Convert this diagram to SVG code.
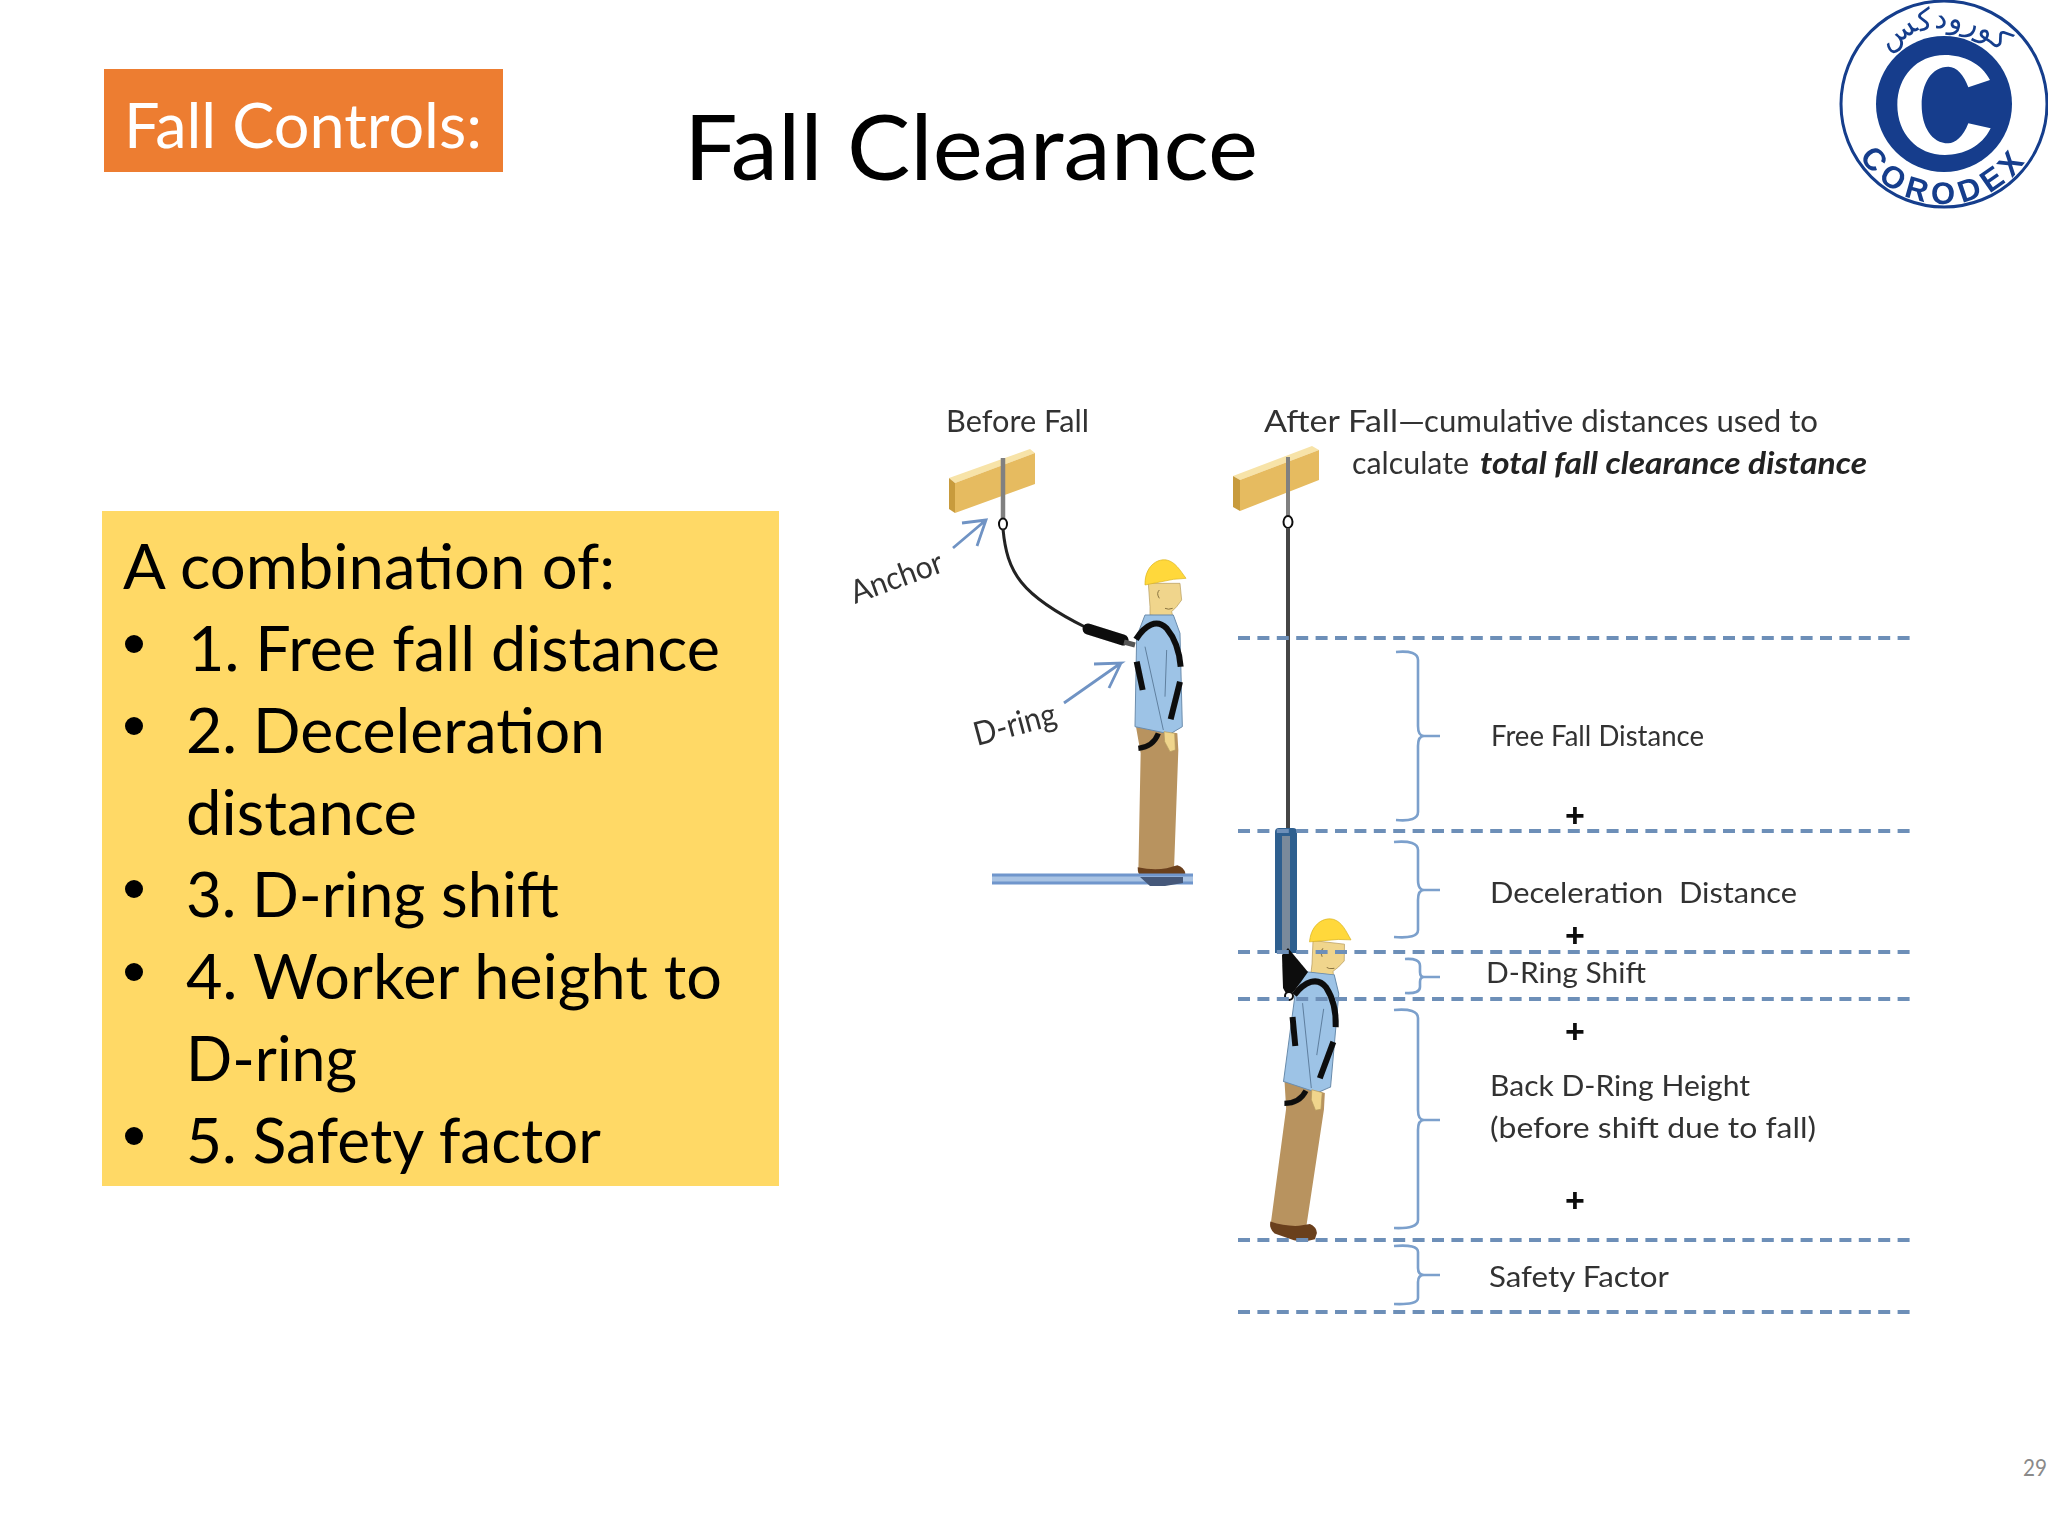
<svg xmlns="http://www.w3.org/2000/svg" width="2048" height="1536" viewBox="0 0 2048 1536">
<style>
text{font-family:"Lato","Carlito","Liberation Sans",sans-serif}
.body{font-size:61px;fill:#000}
.lab{font-size:28px;fill:#333;white-space:pre}
.plus{font-family:"Liberation Sans",sans-serif;font-size:34px;font-weight:bold;fill:#111;text-anchor:middle}
.dash{stroke:#6d8fb8;stroke-width:4;stroke-dasharray:12 7.4;fill:none}
.brace{stroke:#7ba0cc;stroke-width:2.6;fill:none}
.arrow{stroke:#6f93c4;stroke-width:2.8;fill:none}
.top{fill:#f7e3a8}.front{fill:#e6bb60}.side{fill:#c89b3e}
</style>
<defs>
<filter id="soft" x="-5%" y="-5%" width="110%" height="110%"><feGaussianBlur stdDeviation="0.55"/></filter>
<g id="man"><g transform="translate(820 380) scale(.33333)">
<path d="M948 1040L1072 1060L1075 1110L1062 1470L955 1478L962 1120Z" fill="#b8935f"/>
<path d="M953 1462Q1000 1472 1040 1465L1072 1456Q1092 1462 1096 1480L1092 1500Q1060 1514 1030 1510L970 1496Q952 1485 953 1462Z" fill="#6b3f1f"/>
<path d="M955 1105Q1000 1100 1015 1060" fill="none" stroke="#111" stroke-width="16"/>
<path d="M985 610L1080 610L1085 660L1070 680L1055 695L1060 715L990 705L990 680Z" fill="#f0d58c" stroke="#b49a5c" stroke-width="2"/>
<path d="M975 612C975 560 1010 535 1040 540C1065 545 1080 570 1098 595L1060 598L975 615Z" fill="#ffd83a" stroke="#d9b21e" stroke-width="2"/>
<path d="M1018 630Q1008 640 1018 655" fill="none" stroke="#8a7440" stroke-width="3"/>
<path d="M1035 685Q1045 690 1058 685" fill="none" stroke="#8a7440" stroke-width="3"/>
<path d="M950 770L975 705L1060 705L1080 760L1087 1040L1050 1062L945 1040Z" fill="#9dc3e6" stroke="#6a8cac" stroke-width="3"/>
<path d="M975 800L1030 1050M1040 810L1035 950" fill="none" stroke="#5f7f9f" stroke-width="3"/>
<path d="M1032 1055L1064 1060L1066 1110L1050 1115L1034 1085Z" fill="#f0d58c" stroke="#b49a5c" stroke-width="2"/>
<path d="M948 778C975 735 1010 715 1040 745C1065 775 1078 810 1082 860" fill="none" stroke="#111" stroke-width="18"/>
<path d="M1080 905L1052 1018M950 845L968 930" fill="none" stroke="#111" stroke-width="18"/>
</g></g>
</defs>
<rect width="2048" height="1536" fill="#fff"/>

<g id="tag"><rect x="104" y="69" width="399" height="103" fill="#ed7d31"/>
<text x="124" y="148" font-size="61" fill="#fff" textLength="358" lengthAdjust="spacingAndGlyphs">Fall Controls:</text></g>
<g id="title"><text x="684" y="180" font-size="92" fill="#000" textLength="574" lengthAdjust="spacingAndGlyphs">Fall Clearance</text></g>

<g id="combination">
<rect x="102" y="511" width="677" height="675" fill="#ffd966"/>
<text class="body" x="123" y="589" textLength="492" lengthAdjust="spacingAndGlyphs">A combination of:</text>
<g fill="#000"><circle cx="134" cy="644" r="9"/><circle cx="134" cy="726" r="9"/><circle cx="134" cy="889" r="9"/><circle cx="134" cy="972" r="9"/><circle cx="134" cy="1136" r="9"/></g>
<text class="body" x="188" y="671" textLength="532" lengthAdjust="spacingAndGlyphs">1. Free fall distance</text>
<text class="body" x="186" y="753" textLength="419" lengthAdjust="spacingAndGlyphs">2. Deceleration</text>
<text class="body" x="186" y="835" textLength="231" lengthAdjust="spacingAndGlyphs">distance</text>
<text class="body" x="186" y="917" textLength="373" lengthAdjust="spacingAndGlyphs">3. D-ring shift</text>
<text class="body" x="186" y="999" textLength="536" lengthAdjust="spacingAndGlyphs">4. Worker height to</text>
<text class="body" x="186" y="1081" textLength="171" lengthAdjust="spacingAndGlyphs">D-ring</text>
<text class="body" x="186" y="1163" textLength="415" lengthAdjust="spacingAndGlyphs">5. Safety factor</text>
</g>

<g id="logo" filter="url(#soft)">
<circle cx="1944" cy="104" r="103" fill="#fff" stroke="#123e8c" stroke-width="3"/>
<circle cx="1944" cy="104" r="68" fill="#123e8c"/>
<path transform="translate(1820 0) scale(.33333)" fill="#fff" d="M510 240C485 190 430 165 375 165C290 165 232 230 232 315C232 400 290 465 375 465C430 465 485 440 512 385L445 370C430 410 405 430 385 430C335 430 305 380 305 315C305 250 335 200 385 200C410 200 432 225 445 262Z"/>
<path id="logoLow" d="M1858 154A99 99 0 0 0 2030 154" fill="none"/>
<path id="logoUp" d="M1882 60A76 76 0 0 1 2006 60" fill="none"/>
<text font-size="31" font-weight="bold" fill="#123e8c" text-anchor="middle" letter-spacing="6.5" style="font-family:'Liberation Sans',sans-serif"><textPath href="#logoLow" startOffset="50%">CORODEX</textPath></text>
<text font-size="30" fill="#123e8c" text-anchor="middle" style="font-family:'DejaVu Sans',sans-serif"><textPath href="#logoUp" startOffset="50%">كورودكس</textPath></text>
</g>

<g id="before-fall" filter="url(#soft)">
<text class="lab" x="946" y="432" style="font-size:30px" textLength="143" lengthAdjust="spacingAndGlyphs">Before Fall</text>
<g id="anchor-block-1">
<polygon class="top" points="949,478 1030,449 1035,453 955,483"/>
<polygon class="front" points="955,483 1035,453 1035,484 955,513"/>
<polygon class="side" points="949,478 955,483 955,513 949,509"/>
<line x1="1003" y1="458" x2="1003" y2="520" stroke="#808080" stroke-width="4.5"/>
<ellipse cx="1003" cy="524" rx="4" ry="5.5" fill="#fff" stroke="#111" stroke-width="2"/>
</g>
<g id="worker-1"><use href="#man"/></g>
<path d="M1003 529C1007 572 1020 595 1087 628" fill="none" stroke="#222" stroke-width="3"/>
<line x1="1088" y1="629" x2="1123" y2="640" stroke="#0a0a0a" stroke-width="11" stroke-linecap="round"/>
<path d="M1124 642L1135 645" stroke="#555" stroke-width="5" fill="none"/>
<g id="floor"><rect x="992" y="875" width="201" height="8" fill="#a9c3e3"/><path d="M992 875H1193M992 883H1193" stroke="#6f96cc" stroke-width="2.8"/>
<path d="M1140 877H1183V883L1165 886H1150Z" fill="#44597a"/></g>
<g id="anchor-label">
<text class="lab" transform="translate(855 604) rotate(-20)" style="font-size:32px" textLength="96" lengthAdjust="spacingAndGlyphs">Anchor</text>
<path class="arrow" d="M953 548L986 520M962 523L986 520L977 546"/>
</g>
<g id="dring-label">
<text class="lab" transform="translate(977 746) rotate(-15)" style="font-size:33px" textLength="84" lengthAdjust="spacingAndGlyphs">D-ring</text>
<path class="arrow" d="M1064 703L1121 663L1094 664M1121 663L1109 688"/>
</g>
</g>

<g id="after-fall" filter="url(#soft)">
<text class="lab" x="1264" y="432" style="font-size:30px" textLength="161" lengthAdjust="spacingAndGlyphs">After Fall—</text>
<text class="lab" x="1424" y="432" style="font-size:30px" textLength="394" lengthAdjust="spacingAndGlyphs">cumulative distances used to</text>
<text class="lab" x="1352" y="474" style="font-size:30px" textLength="117" lengthAdjust="spacingAndGlyphs">calculate</text>
<text class="lab" x="1480" y="474" style="font-size:30px;font-weight:bold;font-style:italic;fill:#222" textLength="387" lengthAdjust="spacingAndGlyphs">total fall clearance distance</text>
<g id="anchor-block-2">
<polygon class="top" points="1233,476 1312,446 1319,450 1240,480"/>
<polygon class="front" points="1240,480 1319,450 1319,480 1240,511"/>
<polygon class="side" points="1233,476 1240,480 1240,511 1233,507"/>
<line x1="1288" y1="457" x2="1288" y2="517" stroke="#808080" stroke-width="4"/>
<ellipse cx="1288" cy="522" rx="4.5" ry="6" fill="#fff" stroke="#111" stroke-width="2"/>
</g>
<line x1="1288" y1="528" x2="1288" y2="830" stroke="#444" stroke-width="4"/>
<g id="worker-2"><use href="#man" transform="translate(131 357) rotate(6.5 1163 880)"/></g>
<g id="absorber"><path d="M1275 953V832Q1275 828 1279 828H1293Q1297 828 1297 832V953Z" fill="#2f5f8f"/><rect x="1282" y="836" width="8" height="117" fill="#7a8a9b"/></g>
<path d="M1282 955L1288 948L1308 972L1295 990L1288 997L1283 988Z" fill="#0a0a0a"/>
<circle cx="1289" cy="996" r="4" fill="#fff" stroke="#111" stroke-width="2"/>
<g id="levels">
<path class="dash" d="M1238 638H1910M1238 831H1910M1238 952H1910M1238 999H1910M1238 1240H1910M1238 1312H1910"/>
</g>
<g id="braces">
<path class="brace" d="M1396 652Q1418 650 1418 660V726Q1418 736 1424 736H1440M1424 736Q1418 736 1418 746V812Q1418 822 1396 820"/>
<path class="brace" d="M1394 842Q1418 840 1418 850V880Q1418 890 1424 890H1440M1424 890Q1418 890 1418 900V930Q1418 939 1394 937"/>
<path class="brace" d="M1405 959Q1420 958 1420 966V972Q1420 977 1424 977H1440M1424 977Q1420 977 1420 982V987Q1420 994 1405 993"/>
<path class="brace" d="M1394 1010Q1418 1008 1418 1018V1110Q1418 1120 1424 1120H1440M1424 1120Q1418 1120 1418 1130V1220Q1418 1229 1394 1228"/>
<path class="brace" d="M1394 1246Q1418 1244 1418 1252V1268Q1418 1275 1424 1275H1440M1424 1275Q1418 1275 1418 1282V1298Q1418 1305 1394 1304"/>
</g>
<text class="lab" x="1491" y="746" textLength="213" lengthAdjust="spacingAndGlyphs">Free Fall Distance</text>
<text class="plus" x="1575" y="827">+</text>
<text class="lab" x="1490" y="903" textLength="307" lengthAdjust="spacingAndGlyphs">Deceleration  Distance</text>
<text class="plus" x="1575" y="947">+</text>
<text class="lab" x="1486" y="983" textLength="160" lengthAdjust="spacingAndGlyphs">D-Ring Shift</text>
<text class="plus" x="1575" y="1043">+</text>
<text class="lab" x="1490" y="1096" textLength="260" lengthAdjust="spacingAndGlyphs">Back D-Ring Height</text>
<text class="lab" x="1490" y="1138" textLength="326" lengthAdjust="spacingAndGlyphs">(before shift due to fall)</text>
<text class="plus" x="1575" y="1212">+</text>
<text class="lab" x="1489" y="1287" textLength="180" lengthAdjust="spacingAndGlyphs">Safety Factor</text>
</g>

<g id="page-number"><text x="2023" y="1476" font-size="24" fill="#8a8a8a" textLength="24" lengthAdjust="spacingAndGlyphs">29</text></g>
</svg>
